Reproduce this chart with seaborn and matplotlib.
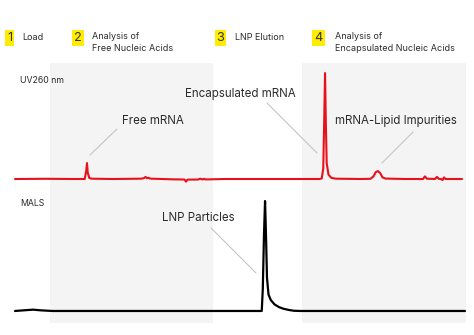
import matplotlib
matplotlib.use("Agg")
import matplotlib.pyplot as plt
import seaborn as sns
import pandas as pd
from matplotlib.lines import Line2D

sns.set_theme(style="white")
plt.rcParams['font.family'] = ['Inter', 'DejaVu Sans']

# ---- data (elution time in min, signal in % of max) ----
uv_time = [0.0, 2.0, 4.0, 4.65, 4.75, 4.8, 4.85, 4.95, 5.1, 6.5, 8.4, 8.6, 8.7, 8.8, 8.9, 8.98, 9.1,
           10.5, 11.3, 11.4, 11.5, 12.2, 12.35, 12.5, 12.6, 12.7, 14.0, 17.0, 20.3, 20.45, 20.55,
           20.62, 20.67, 20.72, 20.78, 20.9, 21.1, 21.4, 23.0, 23.7, 23.9, 24.05, 24.2, 24.35, 24.5,
           24.7, 26.0, 27.2, 27.33, 27.45, 28.0, 28.13, 28.25, 28.4, 28.5, 28.6, 28.7, 29.8]
uv_signal = [0.0, 0.2, 0.0, 0.0, 8.0, 15.0, 6.0, 1.0, 0.3, 0.0, 0.3, 0.8, 2.0, 0.7, 1.2, 0.5, 0.3,
             -0.3, -0.5, -2.5, -0.6, -0.5, 0.3, -0.5, 0.2, -0.4, 0.0, 0.0, 0.0, 0.5, 10.0,
             60.0, 100.0, 55.0, 15.0, 4.0, 1.0, 0.3, 0.0, 0.2, 2.5, 6.5, 7.5, 5.5, 1.5,
             0.4, 0.0, 0.0, 2.5, 0.3, 0.0, 2.0, 0.2, 0.0, -1.0, 1.5, 0.0, 0.0]

mals_time = [0.0, 0.8, 1.2, 1.7, 2.5, 10.0, 16.0, 16.45, 16.52, 16.6, 16.67, 16.74, 16.8, 16.9,
             17.05, 17.3, 17.6, 17.9, 18.3, 18.6, 19.0, 25.0, 30.0]
mals_signal = [0.0, 0.8, 1.2, 0.6, 0.0, 0.0, 0.0, 0.0, 20.0, 70.0, 100.0, 65.0, 30.0, 15.0,
               10.0, 6.0, 3.5, 2.0, 0.8, 0.2, 0.0, 0.0, 0.0]

phase_start = [2.33, 19.13]
phase_end = [13.2, 30.07]

phase_nums = ["1", "2", "3", "4"]
phase_labels = ["Load", "Analysis of\nFree Nucleic Acids", "LNP Elution",
                "Analysis of\nEncapsulated Nucleic Acids"]

uv_df = pd.DataFrame({"time": uv_time, "signal": uv_signal})
mals_df = pd.DataFrame({"time": mals_time, "signal": mals_signal})

W, H = 474, 335
fig = plt.figure(figsize=(W / 100, H / 100), dpi=100)
fig.patch.set_facecolor("white")

XLIM = (-1.0, 30.6)

def fx(px):
    return px / W

def fy(py):
    return 1 - py / H

# background axes: x in time, y in pixels
ax_bg = fig.add_axes([0, 0, 1, 1])
ax_bg.set_xlim(*XLIM)
ax_bg.set_ylim(H, 0)
ax_bg.axis("off")
for s, e in zip(phase_start, phase_end):
    ax_bg.fill_between([s, e], [63, 63], [323, 323], color="#f4f4f4", lw=0, zorder=0)

# UV trace axes
ax_uv = fig.add_axes([0, fy(190), 1, 130 / H])
ax_uv.set_xlim(*XLIM)
ax_uv.set_ylim(-10.38, 112.3)
ax_uv.patch.set_alpha(0)
sns.lineplot(data=uv_df, x="time", y="signal", ax=ax_uv, color="#e8101a", lw=1.5,
             sort=False, estimator=None)
ax_uv.axis("off")

# MALS trace axes
ax_ms = fig.add_axes([0, fy(330), 1, 140 / H])
ax_ms.set_xlim(*XLIM)
ax_ms.set_ylim(-17.3, 110.0)
ax_ms.patch.set_alpha(0)
sns.lineplot(data=mals_df, x="time", y="signal", ax=ax_ms, color="black", lw=1.6,
             sort=False, estimator=None)
ax_ms.axis("off")

txt = "#2b2b2b"
yellow = "#ffec00"

# header
num_x = [9.5, 78, 220.5, 318.5]
lab_x = [22, 92, 235, 335]
for n, lab, nx, lx in zip(phase_nums, phase_labels, num_x, lab_x):
    fig.text(fx(nx), fy(38), n, ha="center", va="center", fontsize=9.2, color="#333333",
             bbox=dict(boxstyle="square,pad=0.16", fc=yellow, ec="none"))
    fig.text(fx(lx), fy(38 if "\n" not in lab else 42.5), lab, ha="left", va="center",
             fontsize=6.5, color=txt, linespacing=1.45)

# trace labels
fig.text(fx(20), fy(81), "UV260 nm", ha="left", va="center", fontsize=6.3, color=txt)
fig.text(fx(20), fy(204), "MALS", ha="left", va="center", fontsize=6.3, color=txt)

# annotations
ann = [
    ("Free mRNA", 122, 121, (117, 129), (90, 155)),
    ("Encapsulated mRNA", 185, 94, (267, 103), (317, 153)),
    ("mRNA-Lipid Impurities", 335, 121, (413, 132), (382, 163)),
    ("LNP Particles", 162, 218, (211, 228), (256, 273)),
]
for label, tx, ty, p0, p1 in ann:
    fig.text(fx(tx), fy(ty), label, ha="left", va="center", fontsize=8.3, color=txt)
    fig.add_artist(Line2D([fx(p0[0]), fx(p1[0])], [fy(p0[1]), fy(p1[1])],
                          color="#c4c4c4", lw=0.8))

fig.savefig("out.png", dpi=100, facecolor="white")
